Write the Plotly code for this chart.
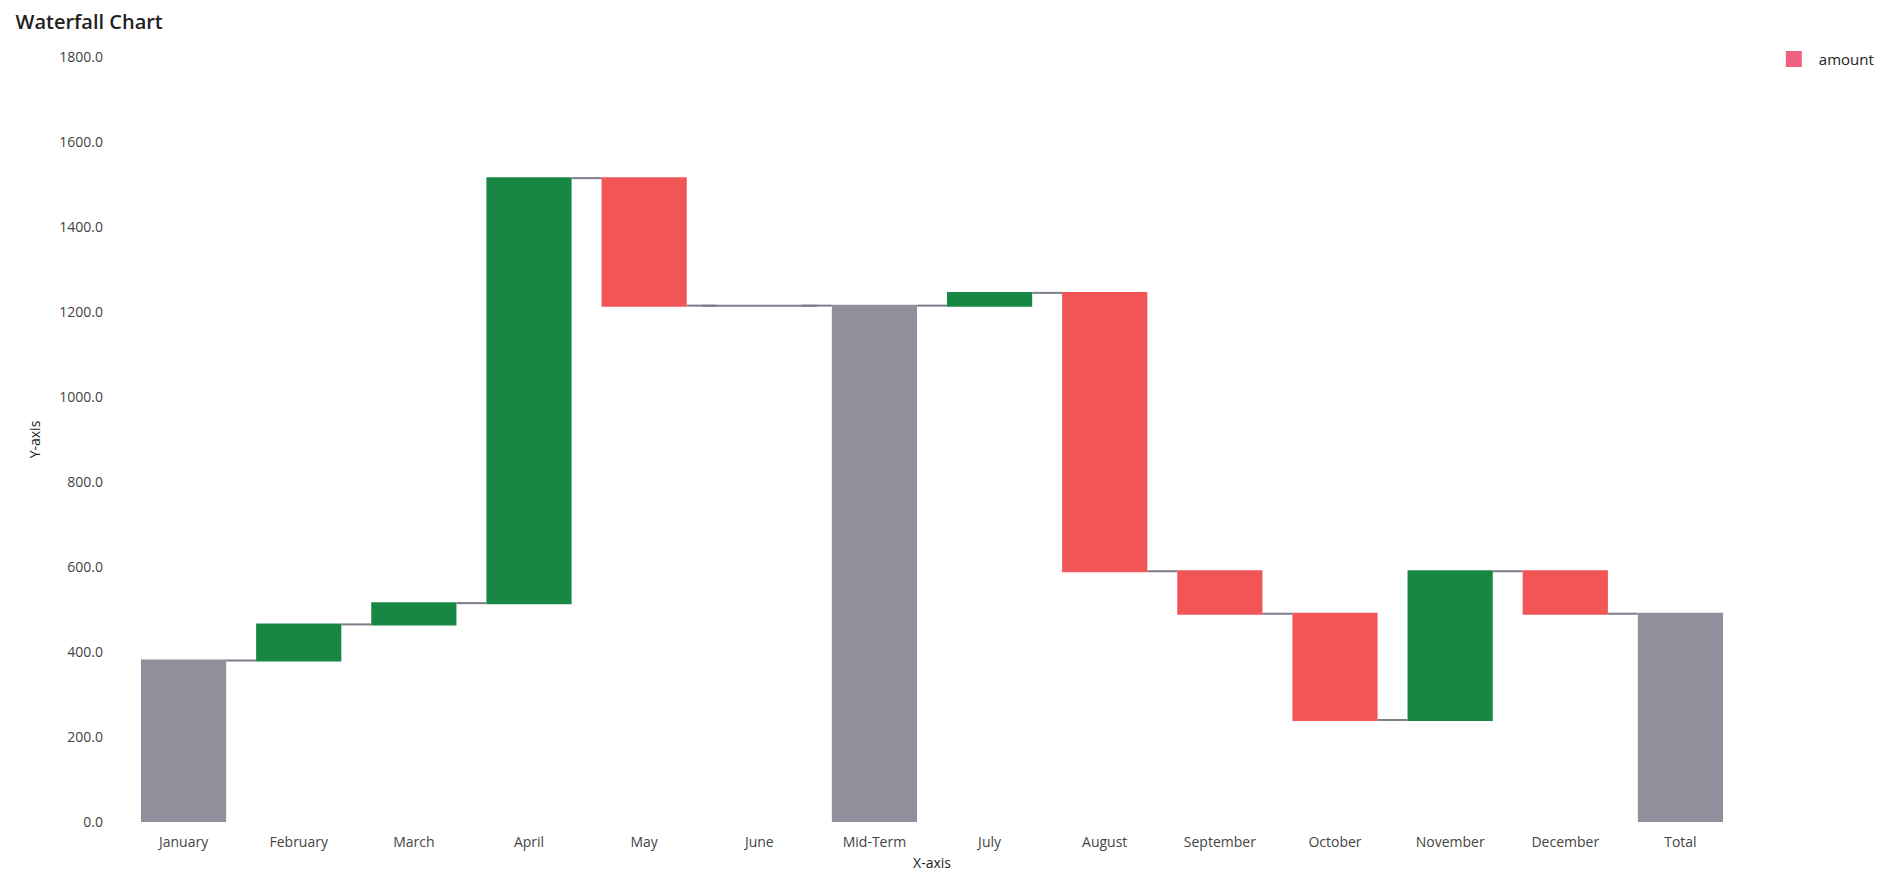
import itertools
import plotly.graph_objects as go

# waterfall data
months = ["January", "February", "March", "April", "May", "June", "Mid-Term",
          "July", "August", "September", "October", "November", "December", "Total"]
amounts = [380, 85, 50, 1000, -300, 0, 0, 30, -655, -100, -250, 350, -100, 0]
measures = ["absolute", "relative", "relative", "relative", "relative", "relative", "total",
            "relative", "relative", "relative", "relative", "relative", "relative", "total"]

GREEN = "#198744"
RED = "#f25555"
GREY = "#8f909b"
PINK = "#f0607f"
CONN = "#7c7d8a"

fig = go.Figure()
fig.add_trace(go.Waterfall(
    x=months, y=amounts, measure=measures,
    name="amount", showlegend=False,
    increasing=dict(marker=dict(color=GREEN)),
    decreasing=dict(marker=dict(color=RED)),
    totals=dict(marker=dict(color=GREY)),
    connector=dict(line=dict(color=CONN, width=2)),
))

# zero change months: flat line drawn through them (on a hidden numeric x axis)
running = list(itertools.accumulate(amounts))
for i, (a, m) in enumerate(zip(amounts, measures)):
    if a == 0 and m == "relative":
        fig.add_trace(go.Scatter(x=[i - 0.5, i + 0.5], y=[running[i], running[i]], xaxis="x2",
                                 mode="lines", line=dict(color=CONN, width=2),
                                 showlegend=False, hoverinfo="skip"))

# legend entry only
fig.add_trace(go.Bar(x=[None], y=[None], name="amount", marker=dict(color=PINK, line=dict(color=PINK, width=4)),
                     showlegend=True))

fig.update_layout(
    title=dict(text="Waterfall Chart", x=0.004, xanchor="left", y=0.984, yanchor="middle",
               font=dict(size=20, color="#222", weight=600)),
    font=dict(family="Open Sans", size=14, color="#444"),
    plot_bgcolor="white", paper_bgcolor="white",
    margin=dict(l=118, r=143, t=49, b=54),
    waterfallgap=0.26,
    showlegend=True,
    legend=dict(xref="container", x=0.9401, y=0.997, xanchor="left", yanchor="middle", itemwidth=40,
                font=dict(size=15, color="#222")),
    xaxis=dict(title=dict(text="X-axis", font=dict(size=14, color="#222"), standoff=8),
               showgrid=False, zeroline=False, ticklabelstandoff=10,
               range=[-0.5, len(months) - 0.5]),
    xaxis2=dict(overlaying="x", range=[-0.5, len(months) - 0.5], visible=False),
    yaxis=dict(title=dict(text="Y-axis", font=dict(size=14, color="#222")), range=[0, 1800], dtick=200,
               tickformat=".1f", showgrid=False, zeroline=False, ticklabelstandoff=22),
)

fig.write_html("out.html")
